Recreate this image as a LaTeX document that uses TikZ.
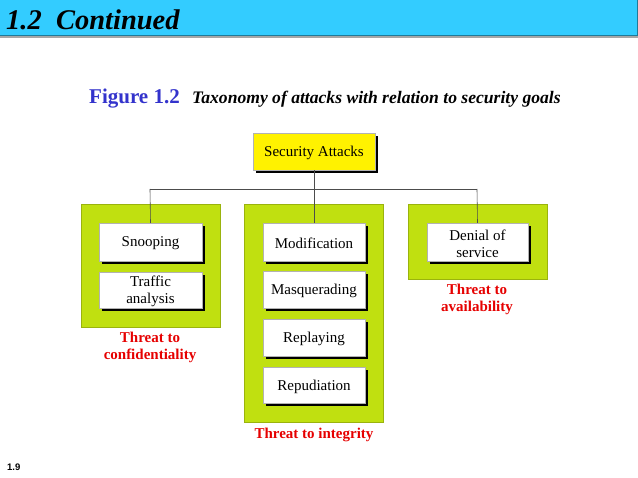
\documentclass[tikz,border=0pt]{standalone}
\usepackage{fontspec}
\setmainfont{Liberation Serif}
\setsansfont{Liberation Sans}
\definecolor{barcyan}{RGB}{51,204,255}
\definecolor{bargreen}{RGB}{192,224,16}
\definecolor{figblue}{RGB}{51,51,204}
\definecolor{threatred}{RGB}{230,0,0}
\tikzset{
  px/.style={x=1pt,y=-1pt},
  panel/.style={fill=bargreen,draw=bargreen!80!black,line width=0.4pt},
  attack/.style={draw=gray!60,fill=white,line width=0.4pt,inner sep=0pt},
  boxtext/.style={align=center,font=\fontsize{15}{17}\selectfont,inner sep=0pt,yshift=-1.5pt},
  shadowbox/.style={fill=black},
  threat/.style={text=threatred,font=\bfseries\fontsize{15}{17}\selectfont,align=center},
  link/.style={draw=gray!60!black,line width=0.6pt}
}
\newcommand{\atbox}[6]{% name, x1, y1, x2, y2, text
  \fill[shadowbox] (#2+3,#3+3) rectangle (#4+3,#5+3);
  \node[attack,minimum width={(#4-#2)*1pt},minimum height={(#5-#3)*1pt}] (#1) at ({(#2+#4)/2},{(#3+#5)/2}) {};
  \node[boxtext] (#1-t) at (#1.center) {#6};
}
\begin{document}
\begin{tikzpicture}[px]
\useasboundingbox (0,0) rectangle (638,478);
\fill[white] (0,0) rectangle (638,478);
% title bar
\fill[gray!70] (0,36) rectangle (638,38);
\fill[barcyan] (0,0) rectangle (637,36);
\draw[draw=barcyan!60!black,line width=0.8pt] (0,35.6) -- (637,35.6) -- (637,0);
\node[anchor=west,font=\bfseries\itshape\fontsize{28.5}{30}\selectfont,inner sep=0pt] (title) at (6,20) {1.2\ \ Continued};
% caption
\node[anchor=base west,inner sep=0pt,text=figblue,font=\bfseries\fontsize{21}{22}\selectfont] (figlab) at (89,104) {Figure 1.2};
\node[anchor=base west,inner sep=0pt,font=\bfseries\itshape\fontsize{17.6}{19}\selectfont] (figcap) at (192,104) {Taxonomy of attacks with relation to security goals};
% panels
\fill[panel] (81,204) rectangle (220,327);
\fill[panel] (244,204) rectangle (383,422);
\fill[panel] (408,204) rectangle (547,279);
% root
\fill[shadowbox] (256,136) rectangle (378,173);
\node[draw=gray!60,fill=yellow,minimum width=122pt,minimum height=37pt,inner sep=0pt] (root) at (314,151.5) {};
\node[boxtext] (root-t) at (root.center) {Security Attacks};
% connectors
\coordinate (hub) at (314,189);
\draw[link] (root.south) -- (hub);
\draw[link] (150,189) -- (477,189);
% attack boxes
\atbox{snoop}{99}{223}{202}{261}{Snooping}
\atbox{traffic}{99}{272}{202}{308}{Traffic\\analysis}
\atbox{modif}{263}{223}{365}{261}{Modification}
\atbox{masq}{263}{271}{365}{308}{Masquerading}
\atbox{replay}{263}{319}{365}{356}{Replaying}
\atbox{repud}{263}{367}{365}{403}{Repudiation}
\atbox{dos}{427}{223}{528}{261}{Denial of\\service}
\draw[link] (hub) -- (modif.north);
\draw[link] (150,189) -- (snoop.north);
\draw[link] (477,189) -- (dos.north);
% threat labels
\node[threat] (tconf) at (150,347.5) {Threat to\\confidentiality};
\node[threat] (tint) at (314,435) {Threat to integrity};
\node[threat] (tavail) at (477,299.5) {Threat to\\availability};
% page number
\node[anchor=west,inner sep=0pt,font=\sffamily\bfseries\fontsize{9.5}{10}\selectfont] (pnum) at (7,467) {1.9};
\end{tikzpicture}
\end{document}
